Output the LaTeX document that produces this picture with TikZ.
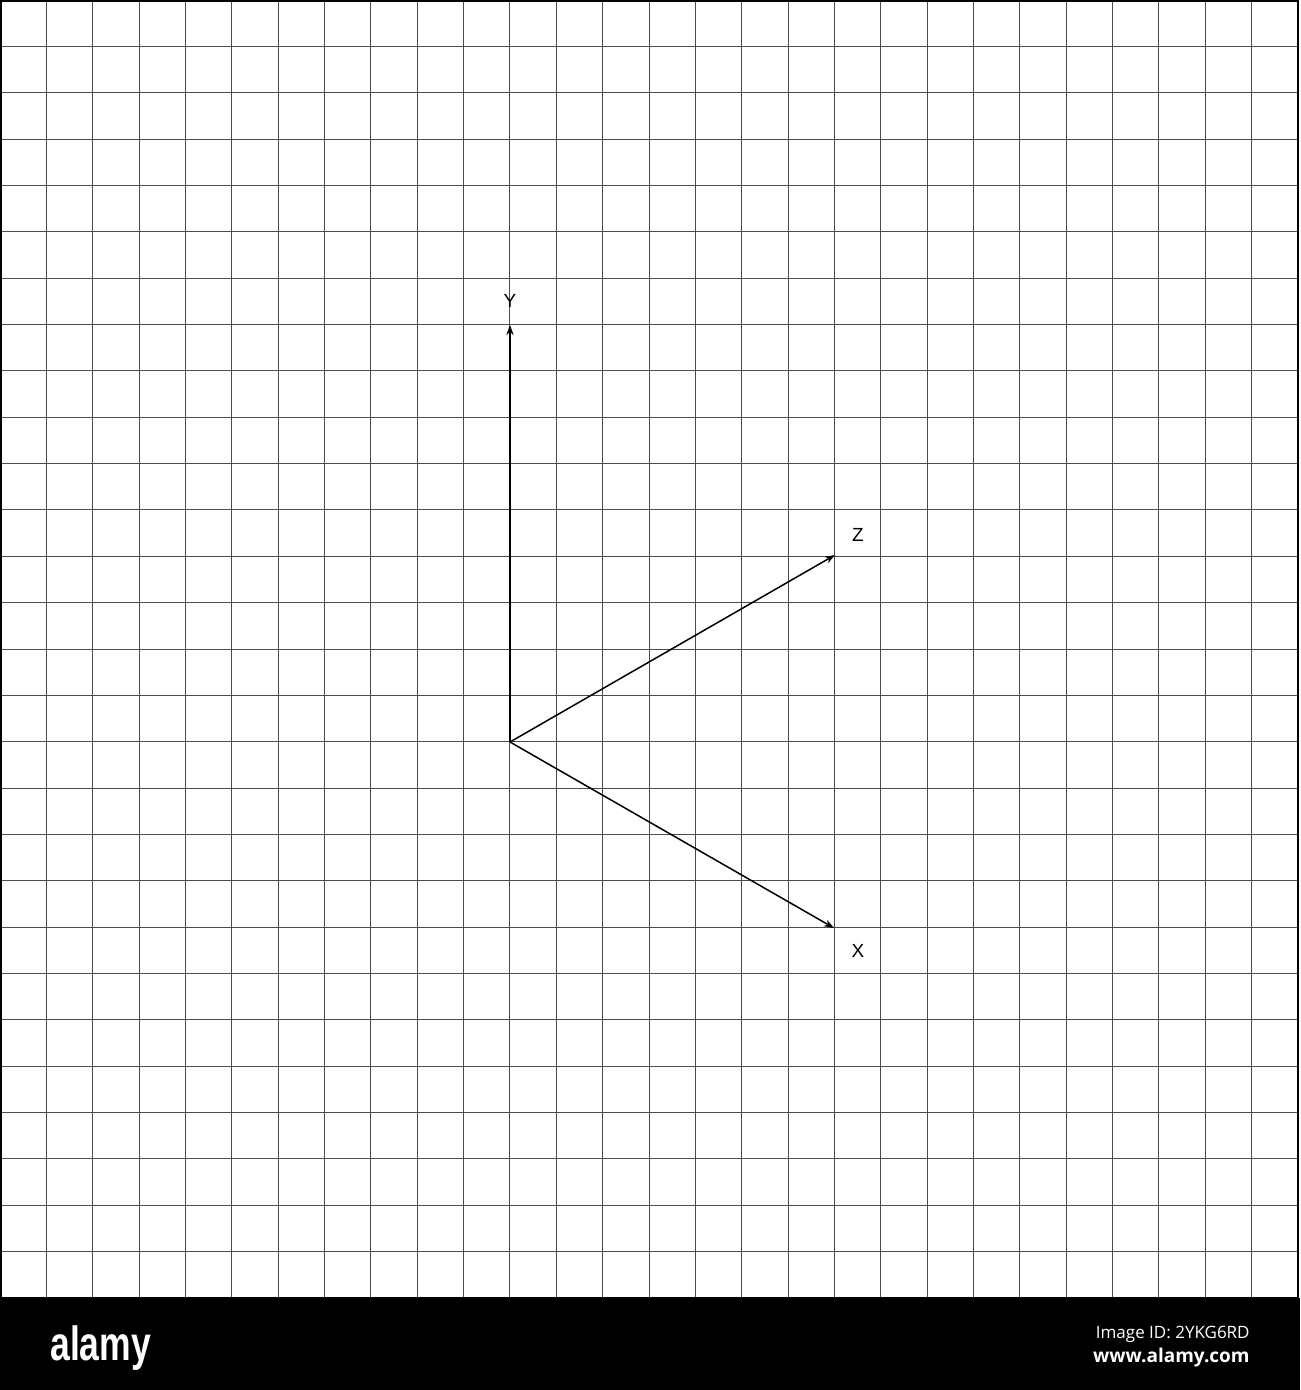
\documentclass[tikz,border=0pt]{standalone}
\usepackage{fontspec}
\setmainfont{Liberation Sans}
\newfontfamily\notosans{Open Sans}
\usetikzlibrary{arrows.meta}
\begin{document}
\begin{tikzpicture}[x=0.5pt,y=-0.5pt,
  gridline/.style={draw=black!70, line width=0.5pt},
  frameline/.style={draw=black, line width=1.2pt},
  axisline/.style={draw=black, line width=0.75pt, -{Stealth[length=5pt,width=3.6pt]}},
  axislabel/.style={font=\fontsize{9.5}{11}\selectfont, inner sep=0pt},
  wm/.style={text=white, inner sep=0pt}]
\useasboundingbox (0,0) rectangle (1300,1390);
\fill[white] (0,0) rectangle (1300,1298);
% grid
\foreach \i in {1,...,27} {
  \draw[gridline] ({\i*46.357},0) -- ({\i*46.357},1298);
  \draw[gridline] (0,{\i*46.357}) -- (1298,{\i*46.357});
}
\draw[frameline] (1,1) rectangle (1298,1298);
% bottom bar
\fill[black] (0,1298) rectangle (1300,1390);
% axes
\coordinate (O) at (510,742);
\coordinate (Ytip) at (510,325);
\coordinate (Ztip) at (835,555);
\coordinate (Xtip) at (834,928);
\draw[axisline] (O) -- (Ytip);
\draw[axisline] (O) -- (Ztip);
\draw[axisline] (O) -- (Xtip);
\node[axislabel] (ylab) at (510,301) {Y};
\node[axislabel] (zlab) at (858,535) {Z};
\node[axislabel] (xlab) at (858,951) {X};
% watermark
\node[wm, anchor=base west, font=\fontsize{24}{26}\selectfont\bfseries, xscale=0.74] (alamy) at (50,1360) {alamy};
\node[wm, anchor=base east, font=\notosans\fontsize{8.5}{10}\selectfont] (imgid) at (1250,1338) {Image ID: 2YKG6RD};
\node[wm, anchor=base east, font=\notosans\fontsize{9.5}{11}\selectfont\bfseries] (www) at (1250,1362) {www.alamy.com};
\end{tikzpicture}
\end{document}
